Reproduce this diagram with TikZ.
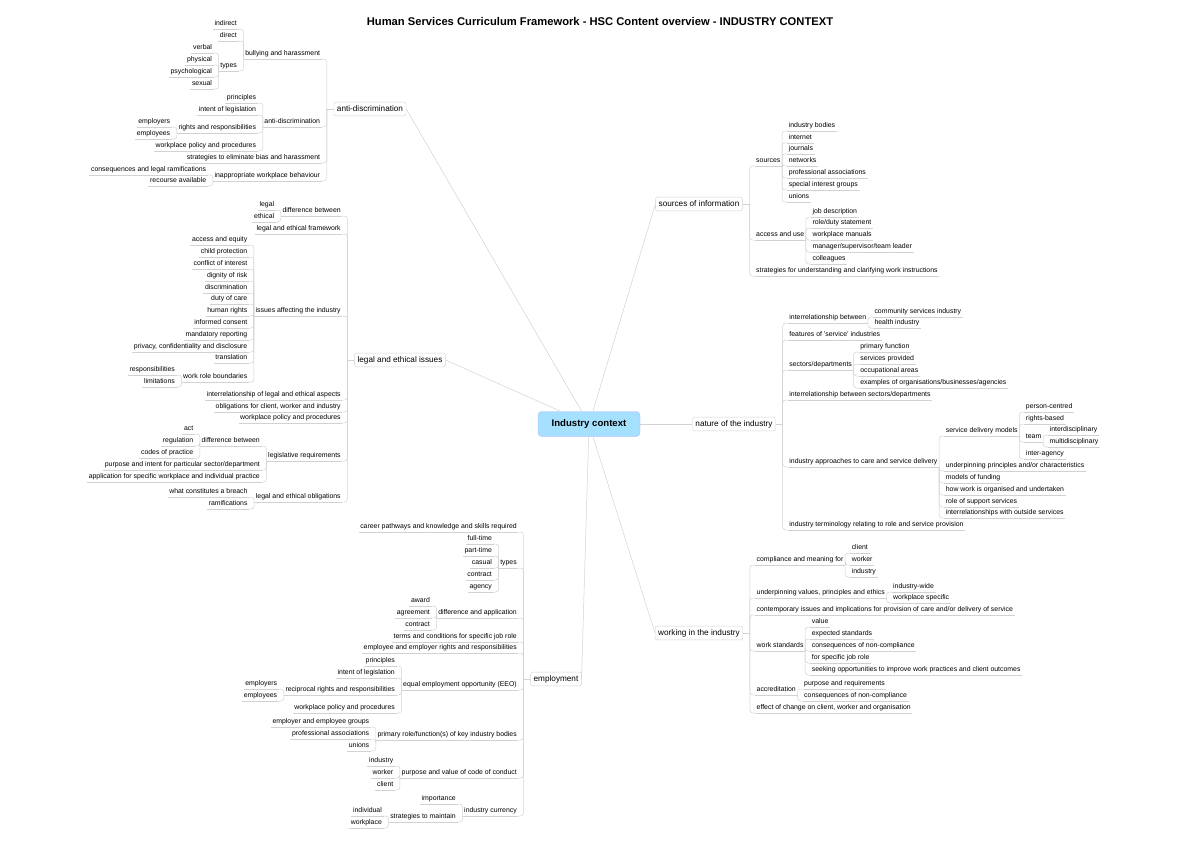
\documentclass[tikz,border=0pt]{standalone}
\usepackage{fontspec}
\setmainfont{Liberation Sans}
\usetikzlibrary{positioning}
\tikzset{
  lbl/.style={font=\fontsize{6.9}{8}\selectfont, inner sep=1.5pt, text height=5pt, text depth=1.4pt,
    append after command={(\tikzlastnode.south west) edge[uline] (\tikzlastnode.south east)}},
  uline/.style={draw=gray!35, line width=0.5pt},
  conn/.style={draw=gray!35, line width=0.5pt, rounded corners=3pt},
  link/.style={draw=gray!35, line width=0.5pt},
  topic/.style={draw=gray!35, rounded corners=2pt, font=\fontsize{8.2}{9}\selectfont, inner sep=3pt,
    text height=6pt, text depth=1.8pt, fill=white},
  hub/.style={draw=blue!30, fill=blue!35!cyan!35, rounded corners=4pt, font=\bfseries\fontsize{9.6}{11}\selectfont,
    minimum width=102pt, minimum height=25pt}
}
% child on the right / left of its parent point, at pixel row #3
\newcommand\Rn[4]{\coordinate (t) at (0,{#3+5});
  \node[lbl,anchor=south west] (#1) at ([xshift=5pt]#2 |- t) {#4};
  \draw[conn] (#2) |- (#1.south west);}
\newcommand\Ln[4]{\coordinate (t) at (0,{#3+5});
  \node[lbl,anchor=south east] (#1) at ([xshift=-5pt]#2 |- t) {#4};
  \draw[conn] (#2) |- (#1.south east);}
\begin{document}
\begin{tikzpicture}[x=1pt,y=-1pt]
\useasboundingbox (0,0) rectangle (1200,848);
\node[font=\bfseries\fontsize{11.2}{13}\selectfont] (title) at (600,21)
  {Human Services Curriculum Framework - HSC Content overview - INDUSTRY CONTEXT};

% main topics
\node[topic] (adis) at (370,109) {anti-discrimination};
\node[topic] (soi)  at (699,204) {sources of information};
\node[topic] (lei)  at (400,360) {legal and ethical issues};
\node[topic] (noi)  at (734,424) {nature of the industry};
\node[topic] (wii)  at (699,633) {working in the industry};
\node[topic] (emp)  at (556,679) {employment};
\node[hub]   (ctr)  at (589,424) {Industry context};
\foreach \t/\a in {adis/east,soi/west,lei/east,noi/west,wii/west,emp/east}
  \draw[link] (ctr) -- (\t.\a);
\coordinate (adisb) at ([xshift=-7pt]adis.west); \draw[link] (adis.west) -- (adisb);
\coordinate (leib)  at ([xshift=-7pt]lei.west);  \draw[link] (lei.west) -- (leib);
\coordinate (empb)  at ([xshift=-7pt]emp.west);  \draw[link] (emp.west) -- (empb);
\coordinate (soib)  at ([xshift=7pt]soi.east);   \draw[link] (soi.east) -- (soib);
\coordinate (noib)  at ([xshift=7pt]noi.east);   \draw[link] (noi.east) -- (noib);
\coordinate (wiib)  at ([xshift=7pt]wii.east);   \draw[link] (wii.east) -- (wiib);

% anti-discrimination
\Ln{bul}{adisb}{54}{bullying and harassment}
\Ln{bulind}{bul.south west}{24}{indirect}
\Ln{buldir}{bul.south west}{36}{direct}
\Ln{bultyp}{bul.south west}{66}{types}
\Ln{tverb}{bultyp.south west}{48}{verbal}
\Ln{tphys}{bultyp.south west}{60}{physical}
\Ln{tpsy}{bultyp.south west}{72}{psychological}
\Ln{tsex}{bultyp.south west}{84}{sexual}
\Ln{ad}{adisb}{122}{anti-discrimination}
\Ln{adpri}{ad.south west}{98}{principles}
\Ln{adint}{ad.south west}{110}{intent of legislation}
\Ln{adrr}{ad.south west}{128}{rights and responsibilities}
\Ln{adrrer}{adrr.south west}{122}{employers}
\Ln{adrree}{adrr.south west}{134}{employees}
\Ln{adwpp}{ad.south west}{146}{workplace policy and procedures}
\Ln{adstr}{adisb}{158}{strategies to eliminate bias and harassment}
\Ln{adinw}{adisb}{176}{inappropriate workplace behaviour}
\Ln{adcon}{adinw.south west}{170}{consequences and legal ramifications}
\Ln{adrec}{adinw.south west}{181}{recourse available}

% legal and ethical issues
\Ln{ldif}{leib}{211}{difference between}
\Ln{ldlg}{ldif.south west}{205}{legal}
\Ln{ldet}{ldif.south west}{217}{ethical}
\Ln{lfrm}{leib}{229}{legal and ethical framework}
\Ln{liss}{leib}{311}{issues affecting the industry}
\foreach \n/\y/\s in {i1/240/access and equity, i2/252/child protection, i3/264/conflict of interest,
  i4/276/dignity of risk, i5/288/discrimination, i6/299/duty of care, i7/311/human rights,
  i8/323/informed consent, i9/335/mandatory reporting, i10/347/{privacy, confidentiality and disclosure},
  i11/358/translation}
  {\Ln{\n}{liss.south west}{\y}{\s}}
\Ln{lwrb}{liss.south west}{377}{work role boundaries}
\Ln{lwrbr}{lwrb.south west}{370}{responsibilities}
\Ln{lwrbl}{lwrb.south west}{382}{limitations}
\Ln{lint}{leib}{395}{interrelationship of legal and ethical aspects}
\Ln{lobl}{leib}{407}{obligations for client, worker and industry}
\Ln{lwpp}{leib}{418}{workplace policy and procedures}
\Ln{lreq}{leib}{456}{legislative requirements}
\Ln{lrdif}{lreq.south west}{441}{difference between}
\Ln{lract}{lrdif.south west}{429}{act}
\Ln{lrreg}{lrdif.south west}{441}{regulation}
\Ln{lrcod}{lrdif.south west}{453}{codes of practice}
\Ln{lrpur}{lreq.south west}{465}{purpose and intent for particular sector/department}
\Ln{lrapp}{lreq.south west}{477}{application for specific workplace and individual practice}
\Ln{lleo}{leib}{497}{legal and ethical obligations}
\Ln{llbr}{lleo.south west}{492}{what constitutes a breach}
\Ln{llram}{lleo.south west}{504}{ramifications}

% employment
\Ln{ecar}{empb}{527}{career pathways and knowledge and skills required}
\Ln{etyp}{empb}{563}{types}
\Ln{etft}{etyp.south west}{539}{full-time}
\Ln{etpt}{etyp.south west}{551}{part-time}
\Ln{etca}{etyp.south west}{563}{casual}
\Ln{etco}{etyp.south west}{575}{contract}
\Ln{etag}{etyp.south west}{587}{agency}
\Ln{edif}{empb}{613}{difference and application}
\Ln{edaw}{edif.south west}{601}{award}
\Ln{edag}{edif.south west}{613}{agreement}
\Ln{edco}{edif.south west}{625}{contract}
\Ln{eter}{empb}{637}{terms and conditions for specific job role}
\Ln{erig}{empb}{648}{employee and employer rights and responsibilities}
\Ln{eeeo}{empb}{685}{equal employment opportunity (EEO)}
\Ln{eepri}{eeeo.south west}{661}{principles}
\Ln{eeint}{eeeo.south west}{673}{intent of legislation}
\Ln{eerec}{eeeo.south west}{690}{reciprocal rights and responsibilities}
\Ln{eerer}{eerec.south west}{684}{employers}
\Ln{eeree}{eerec.south west}{696}{employees}
\Ln{eewpp}{eeeo.south west}{708}{workplace policy and procedures}
\Ln{epri}{empb}{735}{primary role/function(s) of key industry bodies}
\Ln{epgrp}{epri.south west}{722}{employer and employee groups}
\Ln{epass}{epri.south west}{734}{professional associations}
\Ln{epuni}{epri.south west}{746}{unions}
\Ln{ecod}{empb}{773}{purpose and value of code of conduct}
\Ln{ecind}{ecod.south west}{761}{industry}
\Ln{ecwor}{ecod.south west}{773}{worker}
\Ln{eccli}{ecod.south west}{785}{client}
\Ln{ecur}{empb}{811}{industry currency}
\Ln{ecimp}{ecur.south west}{799}{importance}
\Ln{ecstr}{ecur.south west}{817}{strategies to maintain}
\Ln{ecsin}{ecstr.south west}{811}{individual}
\Ln{ecswp}{ecstr.south west}{823}{workplace}

% sources of information
\Rn{ssrc}{soib}{161}{sources}
\foreach \n/\y/\s in {s1/126/industry bodies, s2/138/internet, s3/149/journals, s4/161/networks,
  s5/173/professional associations, s6/185/special interest groups, s7/197/unions}
  {\Rn{\n}{ssrc.south east}{\y}{\s}}
\Rn{sacc}{soib}{235}{access and use}
\foreach \n/\y/\s in {a1/212/job description, a2/223/{role/duty statement}, a3/235/workplace manuals,
  a4/247/{manager/supervisor/team leader}, a5/259/colleagues}
  {\Rn{\n}{sacc.south east}{\y}{\s}}
\Rn{sstr}{soib}{271}{strategies for understanding and clarifying work instructions}

% nature of the industry
\Rn{nint}{noib}{318}{interrelationship between}
\Rn{nicom}{nint.south east}{312}{community services industry}
\Rn{nihea}{nint.south east}{323}{health industry}
\Rn{nfea}{noib}{335}{features of 'service' industries}
\Rn{nsec}{noib}{365}{sectors/departments}
\Rn{nspri}{nsec.south east}{347}{primary function}
\Rn{nsser}{nsec.south east}{359}{services provided}
\Rn{nsocc}{nsec.south east}{371}{occupational areas}
\Rn{nsexa}{nsec.south east}{383}{examples of organisations/businesses/agencies}
\Rn{nisd}{noib}{395}{interrelationship between sectors/departments}
\Rn{napp}{noib}{462}{industry approaches to care and service delivery}
\Rn{nasdm}{napp.south east}{431}{service delivery models}
\Rn{napc}{nasdm.south east}{407}{person-centred}
\Rn{narb}{nasdm.south east}{419}{rights-based}
\Rn{natm}{nasdm.south east}{437}{team}
\Rn{natid}{natm.south east}{430}{interdisciplinary}
\Rn{natmd}{natm.south east}{442}{multidisciplinary}
\Rn{naia}{nasdm.south east}{454}{inter-agency}
\Rn{naund}{napp.south east}{466}{underpinning principles and/or characteristics}
\Rn{namod}{napp.south east}{478}{models of funding}
\Rn{nahow}{napp.south east}{490}{how work is organised and undertaken}
\Rn{narol}{napp.south east}{502}{role of support services}
\Rn{naout}{napp.south east}{513}{interrelationships with outside services}
\Rn{nterm}{noib}{525}{industry terminology relating to role and service provision}

% working in the industry
\Rn{wcom}{wiib}{560}{compliance and meaning for}
\Rn{wccli}{wcom.south east}{548}{client}
\Rn{wcwor}{wcom.south east}{560}{worker}
\Rn{wcind}{wcom.south east}{572}{industry}
\Rn{wval}{wiib}{593}{underpinning values, principles and ethics}
\Rn{wviw}{wval.south east}{587}{industry-wide}
\Rn{wvws}{wval.south east}{598}{workplace specific}
\Rn{wcon}{wiib}{610}{contemporary issues and implications for provision of care and/or delivery of service}
\Rn{wstd}{wiib}{646}{work standards}
\Rn{wsval}{wstd.south east}{622}{value}
\Rn{wsexp}{wstd.south east}{634}{expected standards}
\Rn{wscon}{wstd.south east}{646}{consequences of non-compliance}
\Rn{wsspe}{wstd.south east}{658}{for specific job role}
\Rn{wssee}{wstd.south east}{670}{seeking opportunities to improve work practices and client outcomes}
\Rn{wacc}{wiib}{690}{accreditation}
\Rn{wapur}{wacc.south east}{684}{purpose and requirements}
\Rn{wacon}{wacc.south east}{696}{consequences of non-compliance}
\Rn{weff}{wiib}{708}{effect of change on client, worker and organisation}
\end{tikzpicture}
\end{document}
